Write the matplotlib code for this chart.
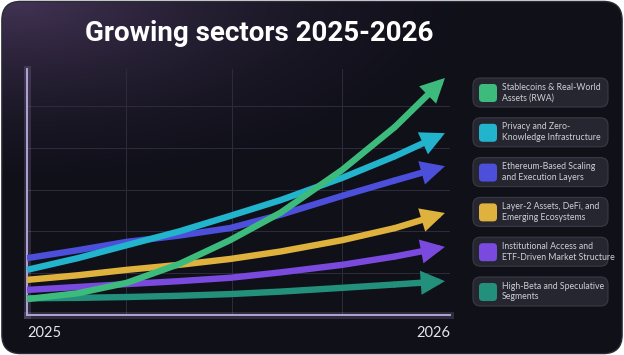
import matplotlib.pyplot as plt
import numpy as np
from matplotlib.patches import FancyBboxPatch
import matplotlib.patheffects as pe

# positions along the year (0 = 2025, 1 = 2026) where values were read
x_pts = [0.0, 0.12, 0.236, 0.36, 0.48, 0.6, 0.745, 0.87]
x_tip = 0.988

labels = [
    'Stablecoins & Real-World\nAssets (RWA)',
    'Privacy and Zero-\nKnowledge Infrastructure',
    'Ethereum-Based Scaling\nand Execution Layers',
    'Layer-2 Assets, DeFi, and\nEmerging Ecosystems',
    'Institutional Access and\nETF-Driven Market Structure',
    'High-Beta and Speculative\nSegments',
]
colors = ['#3dbb7c', '#22b3cd', '#4b4fda', '#dfb23e', '#7a4ade', '#22907b']

stablecoins = [0.38, 0.52, 0.77, 1.22, 1.79, 2.45, 3.47, 4.50]
privacy = [1.08, 1.36, 1.67, 2.00, 2.37, 2.75, 3.28, 3.80]
ethereum = [1.36, 1.55, 1.75, 1.90, 2.08, 2.40, 2.85, 3.22]
layer2 = [0.84, 0.95, 1.08, 1.20, 1.34, 1.52, 1.79, 2.08]
institutional = [0.60, 0.67, 0.74, 0.81, 0.89, 1.02, 1.20, 1.40]
high_beta = [0.40, 0.41, 0.43, 0.46, 0.50, 0.56, 0.65, 0.73]
tips = [5.67, 4.35, 3.56, 2.44, 1.63, 0.81]

series = [stablecoins, privacy, ethereum, layer2, institutional, high_beta]
draw_order = [5, 4, 3, 2, 1, 0]

grid_x = [0.235, 0.484, 0.745]
grid_y = [1, 2, 3, 4, 5]

fig = plt.figure(figsize=(6.24, 3.55), dpi=100, facecolor='white')

# background panel with a purple glow in the top-left corner
bg = fig.add_axes([0, 0, 1, 1], zorder=-10)
bg.set_axis_off()
gx, gy = np.meshgrid(np.linspace(0, 1, 312), np.linspace(0, 1, 178))
d = np.sqrt(((gx - 0.02) * 1.0) ** 2 + ((gy - 0.0) * 1.4) ** 2)
t = np.clip(1 - d / 0.75, 0, 1) ** 1.6
base = np.array([0.063, 0.063, 0.10])
glow = np.array([0.26, 0.20, 0.33])
img = base + t[..., None] * (glow - base)
im = bg.imshow(img, extent=[0, 1, 0, 1], origin='upper', aspect='auto')
panel = FancyBboxPatch((0.003, 0.004), 0.994, 0.992,
                       boxstyle='round,pad=0,rounding_size=0.03',
                       transform=bg.transAxes, facecolor='none',
                       edgecolor='#2c2c38', lw=1.0, mutation_aspect=624 / 355)
bg.add_patch(panel)
im.set_clip_path(panel)
bg.set_xlim(0, 1)
bg.set_ylim(0, 1)

fig.text(0.415, 0.905, 'Growing sectors 2025-2026', ha='center', va='center',
         color='white', fontsize=20, fontweight='bold', family='Roboto')

ax = fig.add_axes([27 / 624, 1 - 315 / 355, 423 / 624, 246 / 355])
ax.set_facecolor('none')
ax.set_xlim(0, 1)
ax.set_ylim(0, 5.885)
for s in ax.spines.values():
    s.set_visible(False)
ax.set_xticks([])
ax.set_yticks([])

for gxv in grid_x:
    ax.axvline(gxv, color='#2e2b3c', lw=0.7, zorder=1)
for gyv in grid_y:
    ax.axhline(gyv, color='#2e2b3c', lw=0.7, zorder=1)

glow_fx = [pe.Stroke(linewidth=5, foreground='#b8a6e0', alpha=0.18), pe.Normal()]
ax.plot([0, 0], [0, 5.885], color='#b3a3d6', lw=1.4, zorder=2,
        clip_on=False, path_effects=glow_fx)
ax.plot([0, 1], [0, 0], color='#b3a3d6', lw=1.4, zorder=2,
        clip_on=False, path_effects=glow_fx)

for i in draw_order:
    ys = series[i]
    ax.plot(x_pts, ys, color=colors[i], lw=4.6, solid_capstyle='butt',
            solid_joinstyle='round', zorder=3 + (6 - i))
    ax.annotate('', xy=(x_tip, tips[i]), xytext=(x_pts[-1], ys[-1]),
                arrowprops=dict(arrowstyle='-|>,head_length=1.0,head_width=0.5',
                                color=colors[i], lw=4.6, mutation_scale=10,
                                shrinkA=0, shrinkB=0, joinstyle='miter'),
                zorder=3 + (6 - i), annotation_clip=False)

ax.annotate('2025', xy=(0, 0), xytext=(0, -8), textcoords='offset points',
            ha='left', va='top', color='#e6e4ee', fontsize=10.5, family='Lato')
ax.annotate('2026', xy=(1, 0), xytext=(0, -8), textcoords='offset points',
            ha='right', va='top', color='#e6e4ee', fontsize=10.5, family='Lato')

# legend boxes
box_top = 78
for i, lab in enumerate(labels):
    top = box_top + i * 39.8
    y0 = 1 - (top + 29) / 355
    box = FancyBboxPatch((473 / 624, y0), 135 / 624, 29 / 355,
                         boxstyle='round,pad=0,rounding_size=0.012',
                         transform=fig.transFigure, facecolor='#262630',
                         edgecolor='#3a3a46', lw=0.8, mutation_aspect=624 / 355)
    fig.add_artist(box)
    sw = FancyBboxPatch((479 / 624, 1 - (top + 24) / 355), 18 / 624, 18 / 355,
                        boxstyle='round,pad=0,rounding_size=0.006',
                        transform=fig.transFigure, facecolor=colors[i],
                        edgecolor='none', mutation_aspect=624 / 355)
    fig.add_artist(sw)
    fig.text(502 / 624, 1 - (top + 14.5) / 355, lab, ha='left', va='center',
             color='#cfcfd8', fontsize=6.3, family='Lato', linespacing=1.25)

fig.savefig('out.png', dpi=100, facecolor='white')
